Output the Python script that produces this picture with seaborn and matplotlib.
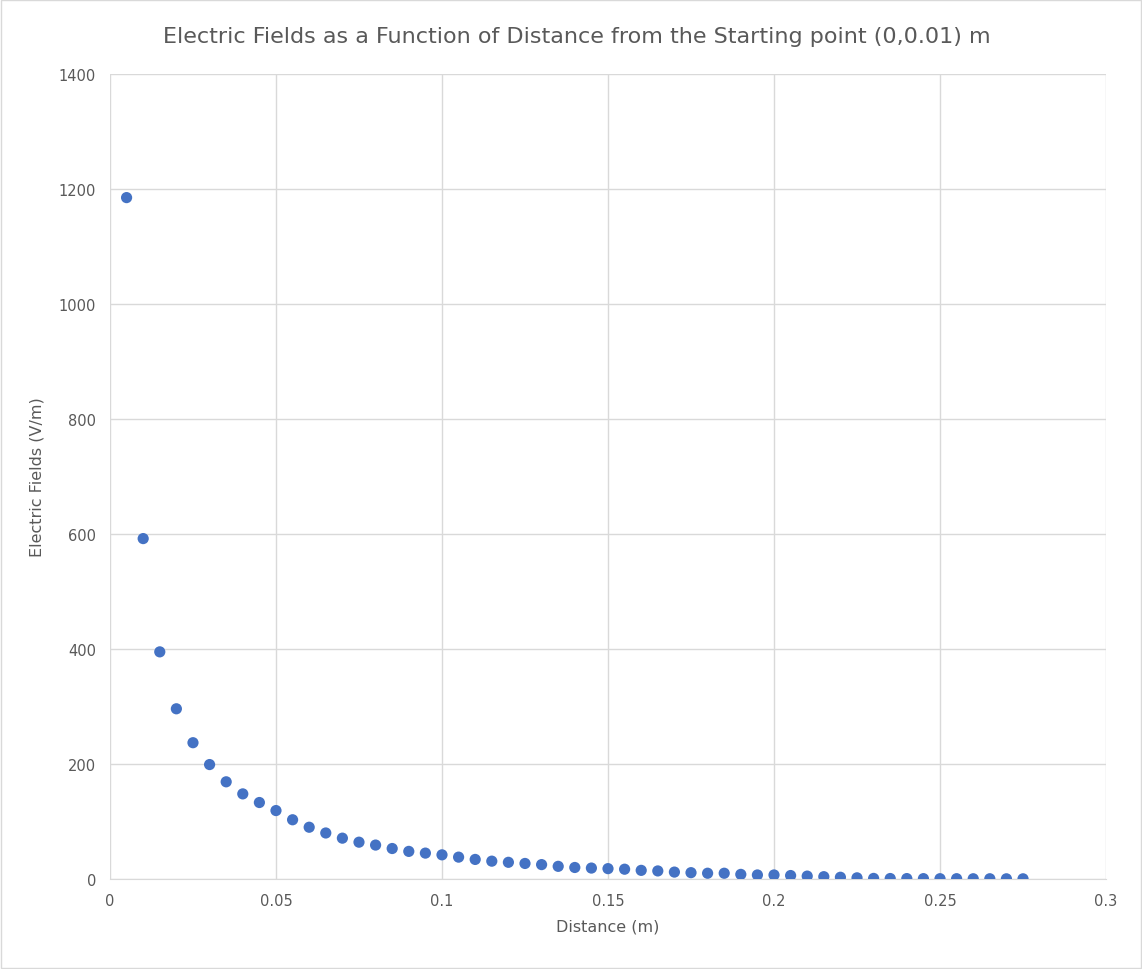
import matplotlib
matplotlib.use("Agg")
import matplotlib.pyplot as plt
import seaborn as sns
import pandas as pd
import numpy as np

distance = [round(0.005 * i, 3) for i in range(1, 56)]
field = [1185, 592, 395, 296, 237, 199, 169, 148, 133, 119,
         103, 90, 80, 71, 64, 59, 53, 48, 45, 42,
         38, 34, 31, 29, 27, 25, 22, 20, 19, 18,
         17, 15, 14, 12, 11, 10, 10, 8, 7, 7,
         6, 5, 4, 3, 2, 1, 0.8, 0.7, 0.6, 0.5,
         0.5, 0.4, 0.4, 0.3, 0.3]
xticks = [0, 0.05, 0.1, 0.15, 0.2, 0.25, 0.3]
xticklabels = ["0", "0.05", "0.1", "0.15", "0.2", "0.25", "0.3"]
yticks = [0, 200, 400, 600, 800, 1000, 1200, 1400]

df = pd.DataFrame({"Distance (m)": distance, "Electric Fields (V/m)": field})

fig = plt.figure(figsize=(11.42, 9.7), dpi=100)
ax = fig.add_axes([0.0963, 0.0928, 0.8722, 0.8299])
sns.scatterplot(data=df, x="Distance (m)", y="Electric Fields (V/m)", ax=ax,
                color="#4472C4", s=65, edgecolor="none", zorder=3)
ax.set_xlim(0, 0.3)
ax.set_ylim(0, 1400)
ax.set_xticks(xticks)
ax.set_xticklabels(xticklabels)
ax.set_yticks(yticks)
ax.grid(True, color="#D9D9D9", linewidth=1)
ax.set_axisbelow(True)
for s in ["top", "right", "left"]:
    ax.spines[s].set_visible(False)
ax.spines["bottom"].set_color("#D9D9D9")
ax.tick_params(length=0, labelsize=10.5, colors="#595959", pad=10)
ax.set_xlabel("Distance (m)", fontsize=11.5, color="#595959", labelpad=8)
ax.set_ylabel("Electric Fields (V/m)", fontsize=11.5, color="#595959", labelpad=10)
fig.text(0.505, 0.962, "Electric Fields as a Function of Distance from the Starting point (0,0.01) m",
         fontsize=16, color="#595959", ha="center", va="center")
fig.patches.append(plt.Rectangle((0.001, 0.001), 0.998, 0.998, transform=fig.transFigure,
                                 fill=False, edgecolor="#D9D9D9", linewidth=1))
fig.savefig("out.png", dpi=100)
